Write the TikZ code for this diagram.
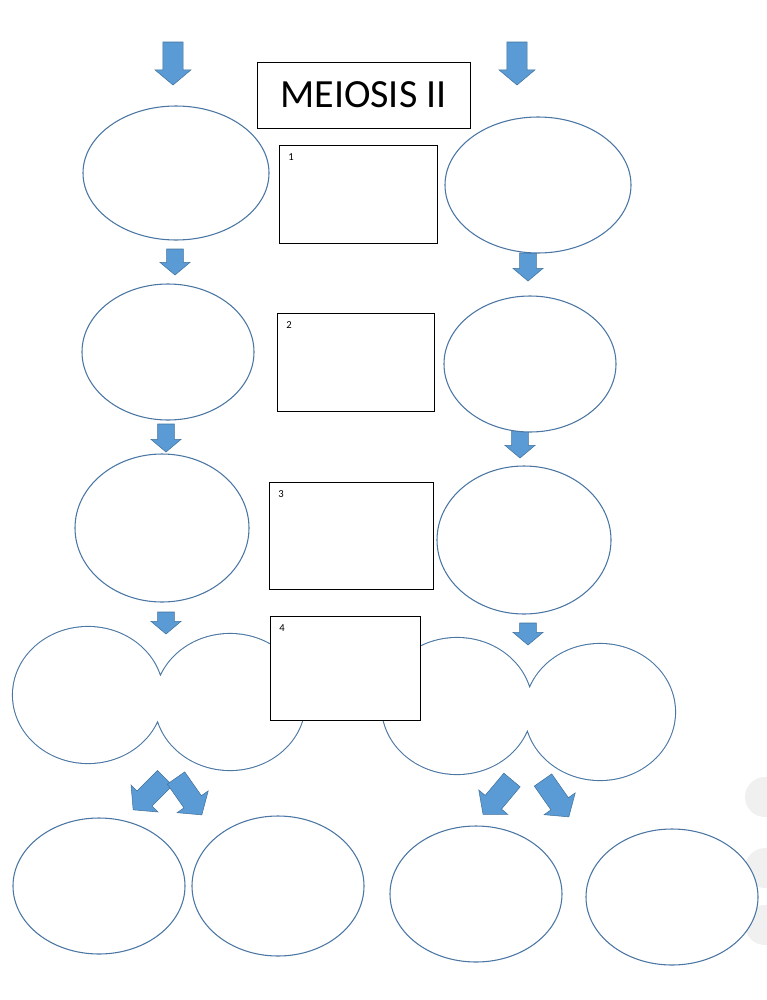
\documentclass[tikz,border=0pt]{standalone}
\usepackage{fontspec}
\setmainfont{Carlito}
\usetikzlibrary{shapes.geometric}
\definecolor{ablue}{HTML}{5B9BD5}
\definecolor{aedge}{HTML}{41719C}
\definecolor{estroke}{HTML}{4A76A3}
\newcommand\barr[5]{% x y rotate length headwidth
 \begin{scope}[shift={(#1,#2)},rotate=#3]
 \fill[ablue,draw=aedge,line width=0.4pt] (-0.28*#5,0)--(0.28*#5,0)--(0.28*#5,#4-0.42*#5)--(0.5*#5,#4-0.42*#5)--(0,#4)--(-0.5*#5,#4-0.42*#5)--(-0.28*#5,#4-0.42*#5)--cycle;
 \end{scope}}
\begin{document}
\begin{tikzpicture}[x=0.75pt,y=-0.75pt,
  ell/.style={draw=estroke,line width=0.8pt,fill=white},
  numbox/.style={draw=black,line width=0.7pt,fill=white}]
\useasboundingbox (0,0) rectangle (767,1000);
% gray circles at edge
\foreach \yy in {797,868,925} \fill[gray!12] (765,\yy) circle (20);
% title
\node[numbox,minimum width=213*0.75pt,minimum height=66*0.75pt,inner sep=0pt,font=\fontsize{30}{30}\selectfont] (title) at (363.5,95) {MEIOSIS II};
% arrows top
\barr{173}{42}{0}{43}{36}
\barr{517}{42}{0}{43}{36}
\barr{175}{249}{0}{26}{30}
\barr{528}{253}{0}{28}{30}
\barr{166}{424}{0}{28}{30}
\barr{520}{430}{0}{28}{30}
\barr{166}{612}{0}{22}{30}
\barr{528}{623}{0}{22}{30}
% diagonal
\barr{165}{778}{-45}{45}{38}
\barr{176}{778}{35}{45}{38}
\barr{512}{780}{-40}{45}{38}
\barr{543}{780}{35}{45}{38}
% ellipses
\node[ell,ellipse,minimum width=186*0.75pt,minimum height=134*0.75pt] (e1) at (176,173) {};
\node[ell,ellipse,minimum width=172*0.75pt,minimum height=136*0.75pt] (e2) at (168,352) {};
\node[ell,ellipse,minimum width=174*0.75pt,minimum height=148*0.75pt] (e3) at (162,528) {};
\node[ell,ellipse,minimum width=186*0.75pt,minimum height=136*0.75pt] (f1) at (538,185) {};
\node[ell,ellipse,minimum width=172*0.75pt,minimum height=136*0.75pt] (f2) at (530,364) {};
\node[ell,ellipse,minimum width=174*0.75pt,minimum height=148*0.75pt] (f3) at (524,540) {};
% pairs (union outline)
\draw[estroke,line width=1.6pt] (88,695) ellipse (75 and 68) (230,702) ellipse (75 and 68) (457,706) ellipse (75 and 68) (600,712) ellipse (75 and 68);
\fill[white] (88,695) ellipse (75 and 68) (230,702) ellipse (75 and 68) (457,706) ellipse (75 and 68) (600,712) ellipse (75 and 68);
% bottom
\node[ell,ellipse,minimum width=172*0.75pt,minimum height=136*0.75pt] (g1) at (99,886) {};
\node[ell,ellipse,minimum width=172*0.75pt,minimum height=140*0.75pt] (g2) at (278,886) {};
\node[ell,ellipse,minimum width=172*0.75pt,minimum height=136*0.75pt] (g3) at (476,894) {};
\node[ell,ellipse,minimum width=172*0.75pt,minimum height=136*0.75pt] (g4) at (672,897) {};
% boxes
\draw[numbox] (279,145) rectangle (437,243);
\draw[numbox] (277,313) rectangle (434,411);
\draw[numbox] (269,482) rectangle (433,589);
\draw[numbox] (270,616) rectangle (420,720);
\node[font=\fontsize{8}{8}\selectfont] (n1) at (291,157) {1};
\node[font=\fontsize{8}{8}\selectfont] (n2) at (289,325) {2};
\node[font=\fontsize{8}{8}\selectfont] (n3) at (281,494) {3};
\node[font=\fontsize{8}{8}\selectfont] (n4) at (282,628) {4};
\end{tikzpicture}
\end{document}
